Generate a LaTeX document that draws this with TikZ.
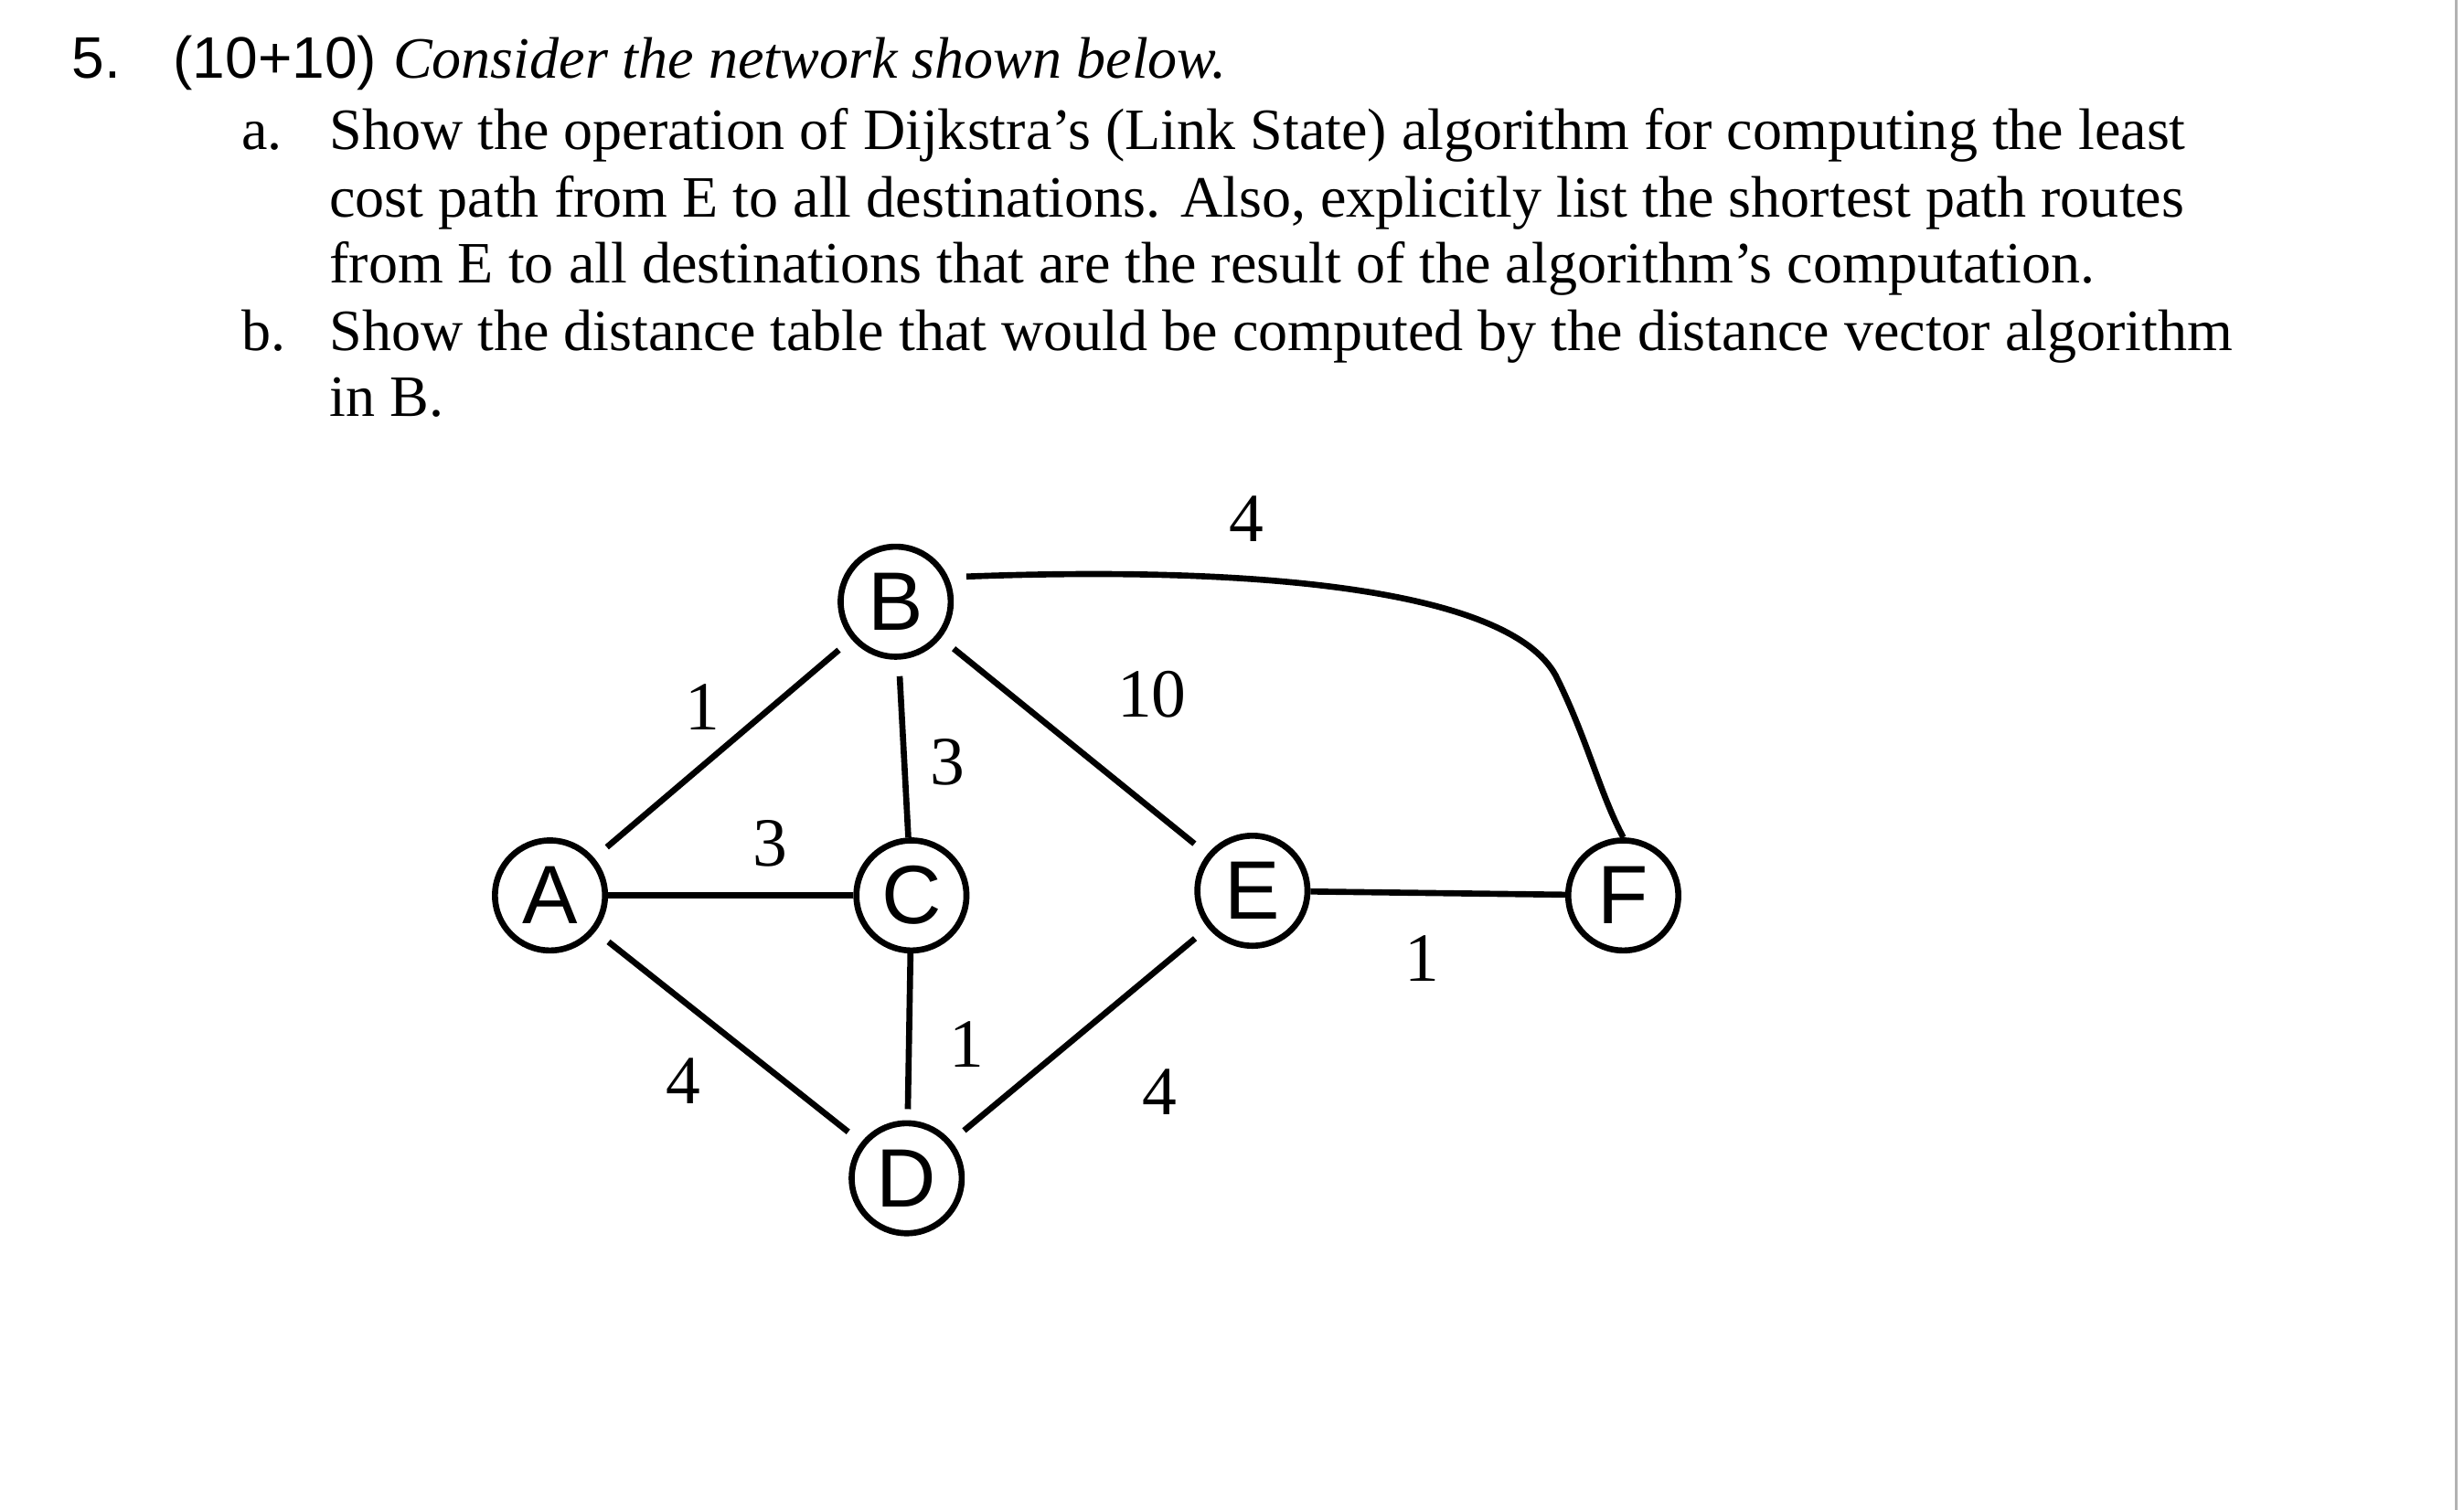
\documentclass[tikz,border=0pt]{standalone}
\usepackage{fontspec}
\setmainfont{Liberation Serif}
\newfontfamily\lsans{Liberation Sans}
\begin{document}
\begin{tikzpicture}[x=0.01cm,y=-0.01cm,
  txt/.style={anchor=base west,inner sep=0,font=\fontsize{10.6}{12}\selectfont},
  vtx/.style={circle,draw,line width=1.1pt,minimum size=0.7cm,inner sep=0,font=\lsans\fontsize{15}{15}\selectfont},
  lbl/.style={font=\fontsize{12.5}{14}\selectfont,inner sep=1pt},
  edge/.style={line width=1.1pt}]
\useasboundingbox (0,0) rectangle (1568,961);
\draw[gray!60,line width=0.6pt] (1563,0) -- (1563,961);
\node[txt] (l0) at (45,50) {\lsans 5.\hspace{0.9em}(10+10) \rmfamily\itshape Consider the network shown below.};
\node[txt] (la) at (153,95) {a.};
\node[txt] (l1) at (209,95) {Show the operation of Dijkstra’s (Link State) algorithm for computing the least};
\node[txt] (l2) at (209,138) {cost path from E to all destinations. Also, explicitly list the shortest path routes};
\node[txt] (l3) at (209,180) {from E to all destinations that are the result of the algorithm’s computation.};
\node[txt] (lb) at (153,223) {b.};
\node[txt] (l4) at (209,223) {Show the distance table that would be computed by the distance vector algorithm};
\node[txt] (l5) at (209,265) {in B.};
\node[vtx] (B) at (570,383) {B};
\node[vtx] (A) at (350,570) {A};
\node[vtx] (C) at (580,570) {C};
\node[vtx] (D) at (577,750) {D};
\node[vtx] (E) at (797,567) {E};
\node[vtx] (F) at (1033,570) {F};
\draw[edge,shorten <=3pt,shorten >=3pt] (A) -- (B);
\draw[edge,shorten <=3pt] (B) -- (C);
\draw[edge] (A) -- (C);
\draw[edge,shorten <=3pt,shorten >=3pt] (A) -- (D);
\draw[edge,shorten >=2pt] (C) -- (D);
\draw[edge,shorten <=3pt,shorten >=3pt] (B) -- (E);
\draw[edge,shorten <=3pt,shorten >=3pt] (E) -- (D);
\draw[edge] (E) -- (F);
\draw[edge] (B.east) ++(8,-16) coordinate (b1);
\draw[edge] (b1) .. controls (800,360) and (960,375) .. (990,430) .. controls (1010,470) and (1018,505) .. (F.north);
\node[lbl] (w1) at (447,450) {1};
\node[lbl] (w2) at (603,485) {3};
\node[lbl] (w3) at (490,537) {3};
\node[lbl] (w4) at (435,688) {4};
\node[lbl] (w5) at (615,665) {1};
\node[lbl] (w6) at (733,442) {10};
\node[lbl] (w7) at (738,695) {4};
\node[lbl] (w8) at (905,610) {1};
\node[lbl] (w9) at (793,330) {4};
\end{tikzpicture}
\end{document}
